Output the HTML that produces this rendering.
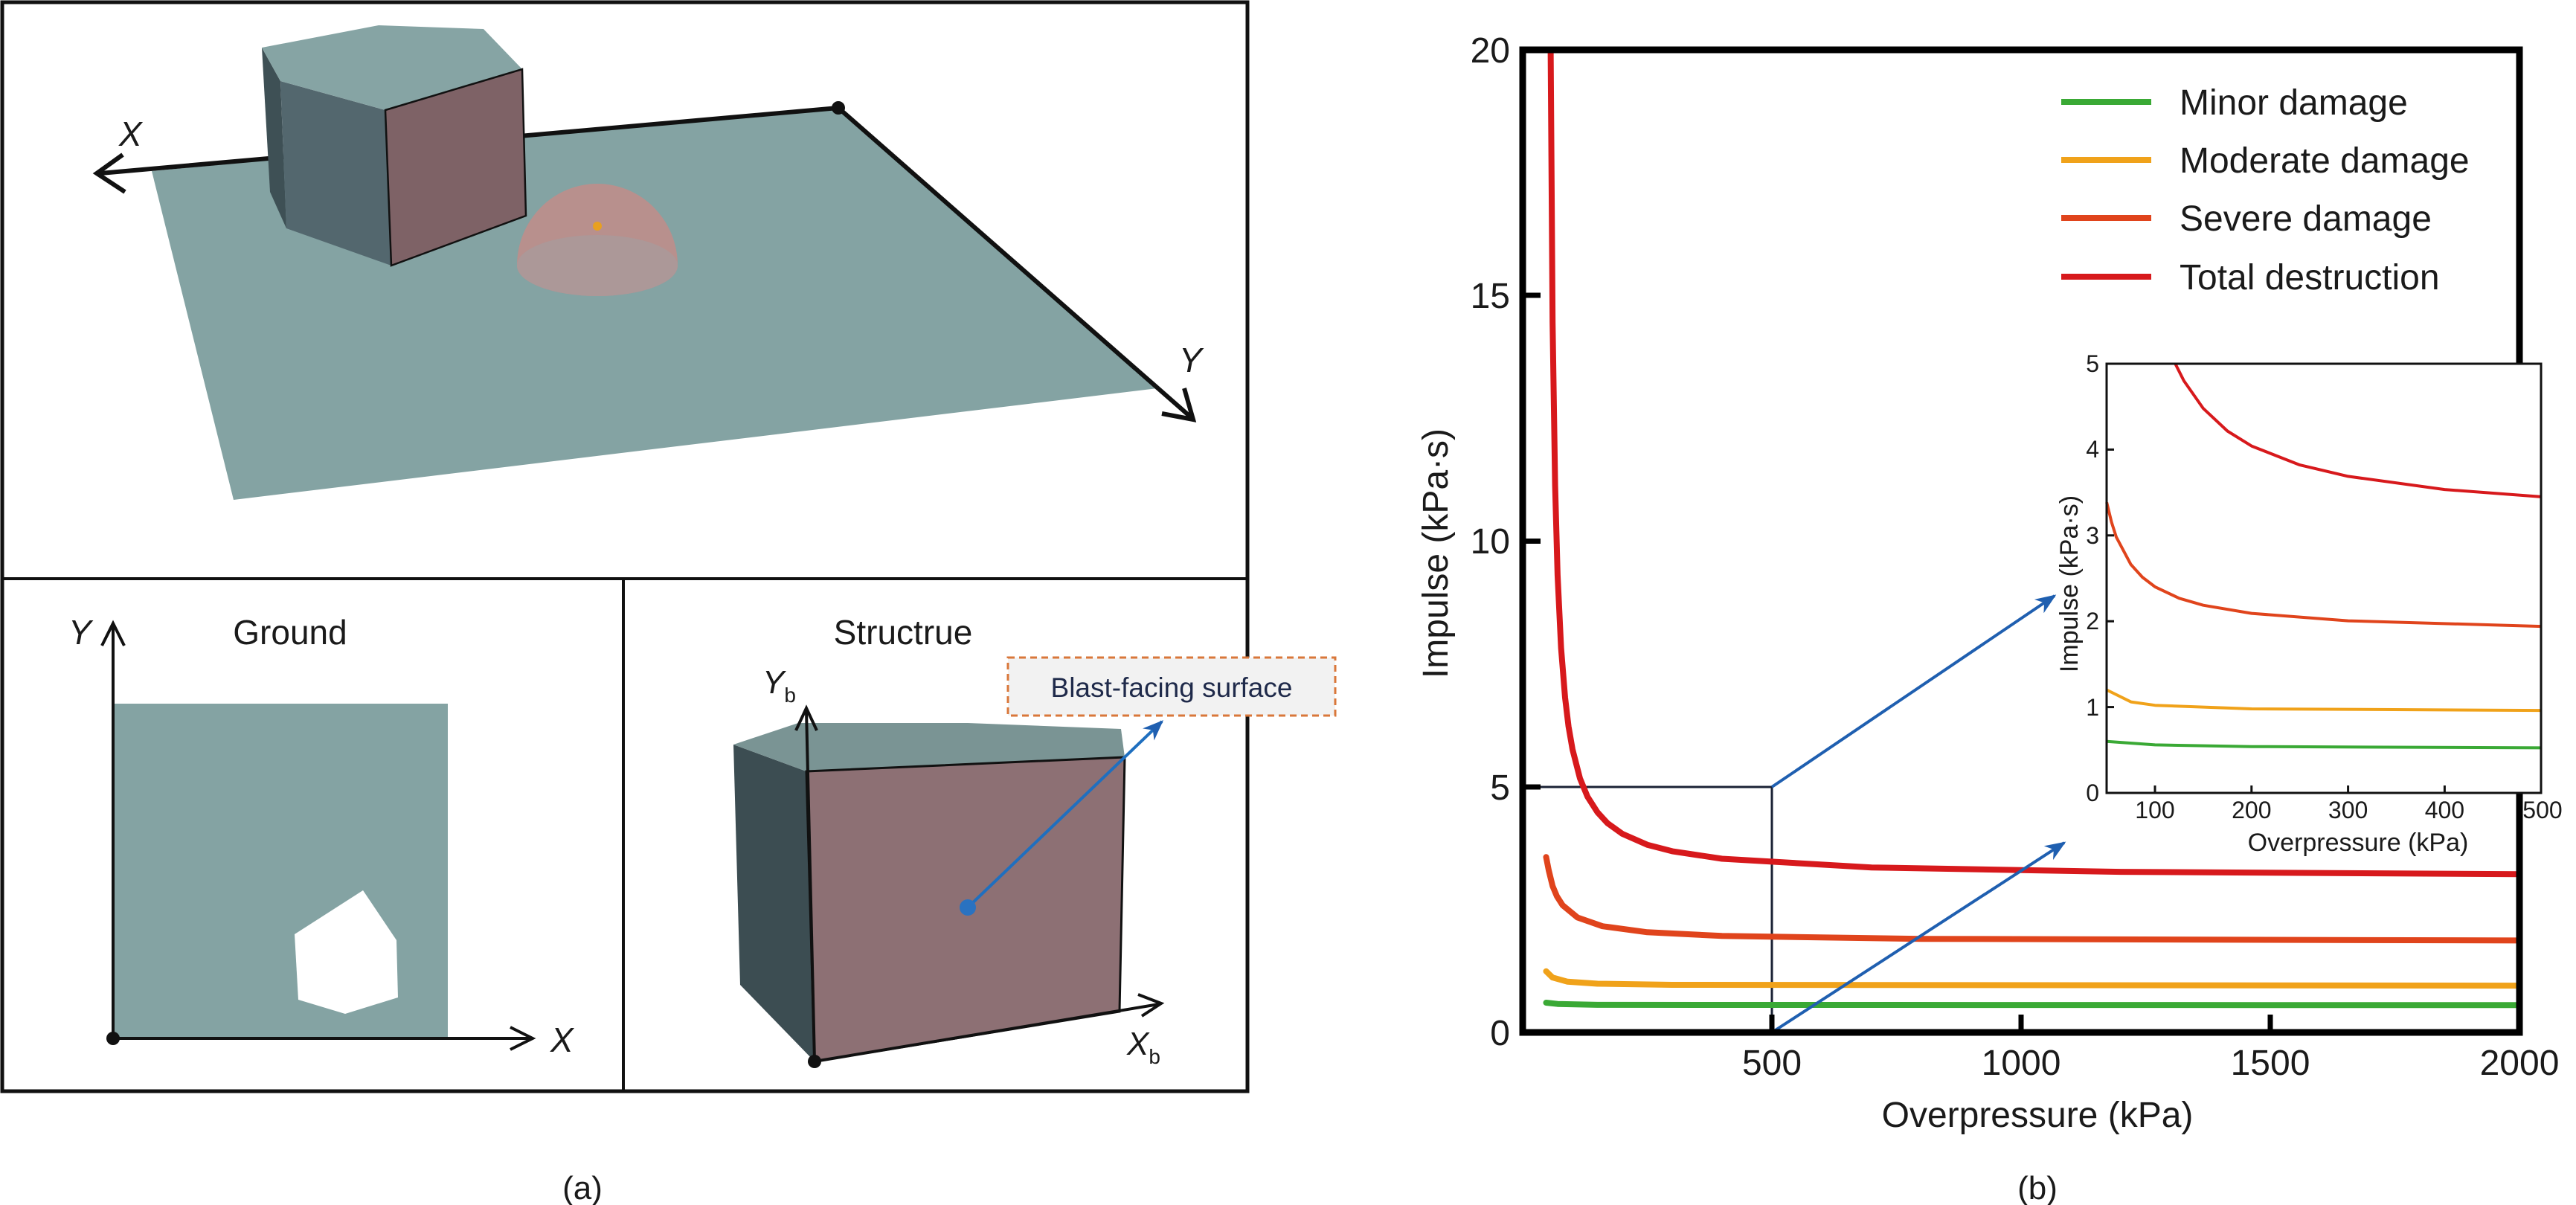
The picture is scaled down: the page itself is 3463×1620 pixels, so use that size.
<!DOCTYPE html>
<html><head><meta charset="utf-8"><style>
html,body{margin:0;padding:0;background:#fff;}
svg{display:block;}
text{font-family:"Liberation Sans",Arial,sans-serif;fill:#1a1a1a;}
</style></head><body>
<svg width="3463" height="1620" viewBox="0 0 3463 1620" xmlns="http://www.w3.org/2000/svg">
<defs>
<marker id="bh" viewBox="0 0 10 10" refX="9" refY="5" markerWidth="28" markerHeight="28" orient="auto" markerUnits="userSpaceOnUse"><path d="M0,1 L10,5 L0,9 L3,5 Z" fill="#1f5fb0"/></marker>
</defs>

<!-- ============ PANEL (a) ============ -->
<rect x="3" y="3" width="1674" height="1464" fill="none" stroke="#111" stroke-width="5"/>
<line x1="3" y1="778" x2="1677" y2="778" stroke="#111" stroke-width="4"/>
<line x1="838" y1="778" x2="838" y2="1467" stroke="#111" stroke-width="4"/>

<!-- top scene -->
<polygon points="204,230 1127,145 1556,522 314,672" fill="#84a3a3"/>
<line x1="1127" y1="145" x2="135" y2="233" stroke="#111" stroke-width="6"/>
<polyline points="165,208 130,233 168,258" fill="none" stroke="#111" stroke-width="6"/>
<line x1="1127" y1="145" x2="1600" y2="560" stroke="#111" stroke-width="6"/>
<polyline points="1592,522 1604,564 1562,556" fill="none" stroke="#111" stroke-width="6"/>
<circle cx="1127" cy="145" r="9" fill="#111"/>
<text x="160" y="196" font-size="46" font-style="italic">X</text>
<text x="1585" y="500" font-size="46" font-style="italic">Y</text>
<!-- building -->
<polygon points="352,64 377,109 385,307 363,258" fill="#3e5055"/>
<polygon points="377,109 518,148 526,357 385,307" fill="#53676e"/>
<polygon points="352,64 509,34 650,39 702,93 518,148 377,109" fill="#86a4a4"/>
<polygon points="518,148 702,93 707,290 526,357" fill="#7e6266" stroke="#111" stroke-width="2.5"/>
<!-- dome -->
<path d="M695,357 A108,110 0 0 1 911,357 A108,41 0 0 1 695,357 Z" fill="#c98a86" opacity="0.75"/>
<ellipse cx="803" cy="357" rx="108" ry="41" fill="#a99a9b" opacity="0.8"/>
<circle cx="803" cy="304" r="6" fill="#e8a020"/>

<!-- bottom-left: ground -->
<text x="390" y="866" font-size="46" text-anchor="middle">Ground</text>
<rect x="154" y="946" width="448" height="448" fill="#84a3a3"/>
<polygon points="396,1256 488,1197 533,1264 535,1341 464,1363 401,1344" fill="#fff"/>
<line x1="152" y1="1396" x2="152" y2="842" stroke="#111" stroke-width="4"/>
<polyline points="137,868 152,838 167,868" fill="none" stroke="#111" stroke-width="4"/>
<line x1="152" y1="1396" x2="712" y2="1396" stroke="#111" stroke-width="4"/>
<polyline points="686,1381 716,1396 686,1411" fill="none" stroke="#111" stroke-width="4"/>
<circle cx="152" cy="1396" r="9" fill="#111"/>
<text x="92" y="866" font-size="46" font-style="italic">Y</text>
<text x="740" y="1414" font-size="46" font-style="italic">X</text>

<!-- bottom-right: structure -->
<text x="1214" y="866" font-size="46" text-anchor="middle">Structrue</text>
<polygon points="986,1001 1084,1037 1095,1427 995,1324" fill="#3c4d52"/>
<polygon points="986,1001 1073,972 1301,972 1507,980 1512,1018 1084,1037" fill="#7a9494"/>
<polygon points="1084,1037 1512,1018 1505,1360 1095,1427" fill="#8d7074" stroke="#111" stroke-width="3"/>
<line x1="1095" y1="1427" x2="1084" y2="955" stroke="#111" stroke-width="4"/>
<polyline points="1070,982 1084,952 1098,982" fill="none" stroke="#111" stroke-width="4"/>
<line x1="1095" y1="1427" x2="1558" y2="1350" stroke="#111" stroke-width="4"/>
<polyline points="1530,1337 1561,1349 1535,1366" fill="none" stroke="#111" stroke-width="4"/>
<circle cx="1095" cy="1427" r="9" fill="#111"/>
<text x="1025" y="932" font-size="44" font-style="italic">Y<tspan font-size="28" font-style="normal" dy="12">b</tspan></text>
<text x="1515" y="1418" font-size="44" font-style="italic">X<tspan font-size="28" font-style="normal" dy="12">b</tspan></text>
<rect x="1355" y="884" width="440" height="78" fill="#f2f2f2" stroke="#d9773a" stroke-width="3" stroke-dasharray="9,6"/>
<text x="1575" y="937" font-size="37" text-anchor="middle" style="fill:#1f2a4a">Blast-facing surface</text>
<line x1="1301" y1="1220" x2="1562" y2="970" stroke="#1f6fbf" stroke-width="4" marker-end="url(#bh)"/>
<circle cx="1301" cy="1220" r="11" fill="#2a72c0"/>

<text x="783" y="1612" font-size="44" text-anchor="middle">(a)</text>

<!-- ============ PANEL (b) ============ -->
<rect x="2047" y="1058" width="335" height="330" fill="none" stroke="#1a2235" stroke-width="3"/>
<g fill="none" stroke-width="8" stroke-linecap="round" stroke-linejoin="round">
<polyline stroke="#3aa935" points="2078.5,1348 2093.9,1349.7 2147.5,1350.9 3387,1351.3"/>
<polyline stroke="#f0a21a" points="2078.5,1305.8 2087.2,1314.2 2107.3,1319.8 2147.5,1322.5 2248,1324 3387,1325.1"/>
<polyline stroke="#e0441c" points="2078.5,1152.2 2082,1170 2087.2,1191.2 2093,1205 2100.6,1216.9 2120.7,1233.5 2154.2,1245.2 2214.5,1253.3 2315,1258.3 2583,1262.2 3387,1264.4"/>
<polyline stroke="#d7191c" points="2084.6,67 2087.2,433.6 2090.6,653 2093.9,773 2098.6,871 2104,938 2108.6,976.5 2114,1007.6 2124,1046.5 2134.1,1071 2147.5,1092 2160.9,1106.6 2181,1121 2214.5,1135.7 2248,1144.4 2315,1154.5 2516,1166.2 2851,1172.1 3387,1175.3"/>
</g>
<line x1="2382" y1="1058" x2="2762" y2="801" stroke="#1f5fb0" stroke-width="4" marker-end="url(#bh)"/>
<line x1="2382" y1="1388" x2="2775" y2="1133" stroke="#1f5fb0" stroke-width="4" marker-end="url(#bh)"/>
<rect x="2047" y="67" width="1340" height="1321" fill="none" stroke="#000" stroke-width="9"/>
<g stroke="#000" stroke-width="7">
<line x1="2382" y1="1388" x2="2382" y2="1364"/>
<line x1="2717" y1="1388" x2="2717" y2="1364"/>
<line x1="3052" y1="1388" x2="3052" y2="1364"/>
<line x1="2047" y1="1058" x2="2071" y2="1058"/>
<line x1="2047" y1="727.5" x2="2071" y2="727.5"/>
<line x1="2047" y1="397" x2="2071" y2="397"/>
</g>
<g font-size="48">
<text x="2382" y="1445" text-anchor="middle">500</text>
<text x="2717" y="1445" text-anchor="middle">1000</text>
<text x="3052" y="1445" text-anchor="middle">1500</text>
<text x="3387" y="1445" text-anchor="middle">2000</text>
<text x="2030" y="1405" text-anchor="end">0</text>
<text x="2030" y="1075" text-anchor="end">5</text>
<text x="2030" y="744" text-anchor="end">10</text>
<text x="2030" y="414" text-anchor="end">15</text>
<text x="2030" y="84" text-anchor="end">20</text>
</g>
<text x="2739" y="1515" font-size="48" text-anchor="middle">Overpressure (kPa)</text>
<text transform="translate(1946,744) rotate(-90)" font-size="48" text-anchor="middle">Impulse (kPa·s)</text>
<text x="2739" y="1612" font-size="44" text-anchor="middle">(b)</text>

<g stroke-width="8">
<line x1="2771" y1="137" x2="2892" y2="137" stroke="#3aa935"/>
<line x1="2771" y1="215" x2="2892" y2="215" stroke="#f0a21a"/>
<line x1="2771" y1="293" x2="2892" y2="293" stroke="#e0441c"/>
<line x1="2771" y1="372" x2="2892" y2="372" stroke="#d7191c"/>
</g>
<g font-size="48">
<text x="2930" y="154">Minor damage</text>
<text x="2930" y="232">Moderate damage</text>
<text x="2930" y="310">Severe damage</text>
<text x="2930" y="389">Total destruction</text>
</g>

<!-- inset -->
<rect x="2832" y="489" width="584" height="577" fill="#fff"/>
<g fill="none" stroke-width="4" stroke-linejoin="round">
<polyline stroke="#3aa935" points="2832.1,996.8 2897,1001.4 3026.8,1003.7 3416.2,1005.4"/>
<polyline stroke="#f0a21a" points="2832.1,927.5 2864.6,943.6 2897,948.2 3026.8,953 3416.2,955.1"/>
<polyline stroke="#e0441c" points="2832.1,675.3 2838.6,702 2845,722.1 2864.6,758.9 2880.1,776 2897,788.9 2929.5,804.3 2961.9,813.7 3026.8,824.6 3156.6,834.6 3416.2,842.1"/>
<polyline stroke="#d7191c" points="2924.3,489 2935.9,512 2961.9,549.1 2994.4,579.5 3026.8,599.6 3091.7,625.1 3156.6,640.4 3286.4,658.1 3416.2,667.9"/>
</g>
<rect x="2832" y="489" width="584" height="577" fill="none" stroke="#111" stroke-width="3"/>
<g stroke="#111" stroke-width="3">
<line x1="2897" y1="1066" x2="2897" y2="1056"/>
<line x1="3026.8" y1="1066" x2="3026.8" y2="1056"/>
<line x1="3156.6" y1="1066" x2="3156.6" y2="1056"/>
<line x1="3286.4" y1="1066" x2="3286.4" y2="1056"/>
<line x1="2832" y1="950.6" x2="2842" y2="950.6"/>
<line x1="2832" y1="835.2" x2="2842" y2="835.2"/>
<line x1="2832" y1="719.8" x2="2842" y2="719.8"/>
<line x1="2832" y1="604.4" x2="2842" y2="604.4"/>
</g>
<g font-size="32">
<text x="2897" y="1100" text-anchor="middle">100</text>
<text x="3026.8" y="1100" text-anchor="middle">200</text>
<text x="3156.6" y="1100" text-anchor="middle">300</text>
<text x="3286.4" y="1100" text-anchor="middle">400</text>
<text x="3418" y="1100" text-anchor="middle">500</text>
<text x="2822" y="1077" text-anchor="end">0</text>
<text x="2822" y="962" text-anchor="end">1</text>
<text x="2822" y="846" text-anchor="end">2</text>
<text x="2822" y="731" text-anchor="end">3</text>
<text x="2822" y="615" text-anchor="end">4</text>
<text x="2822" y="500" text-anchor="end">5</text>
</g>
<text x="3170" y="1144" font-size="34" text-anchor="middle">Overpressure (kPa)</text>
<text transform="translate(2793,785) rotate(-90)" font-size="34" text-anchor="middle">Impulse (kPa·s)</text>
</svg>
</body></html>
